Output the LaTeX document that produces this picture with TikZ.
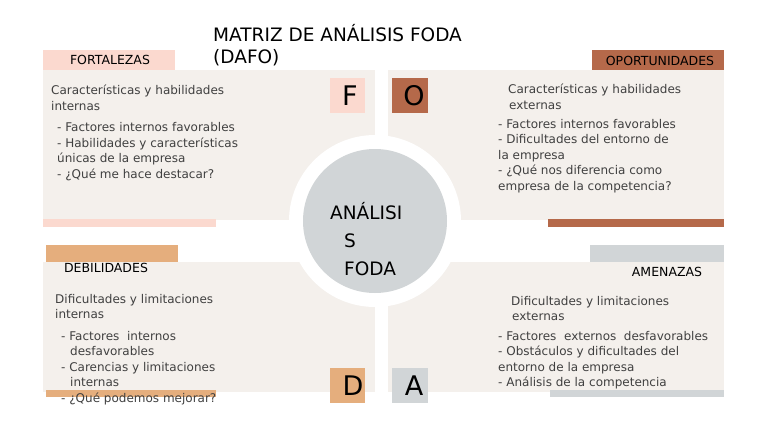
\documentclass[tikz,border=0pt]{standalone}
\usepackage{fontspec}
\setmainfont{DejaVu Sans}
\definecolor{bg}{HTML}{F4F0EC}
\definecolor{pk}{HTML}{FBD9CF}
\definecolor{br}{HTML}{B5694A}
\definecolor{og}{HTML}{E5AE7D}
\definecolor{gy}{HTML}{D1D5D7}
\definecolor{tx}{HTML}{404040}
\begin{document}
\begin{tikzpicture}[x=1pt,y=-1pt,
 body/.style={anchor=north west,align=left,font=\fontsize{12}{15.5}\selectfont,text=tx,inner sep=0},
 head/.style={font=\fontsize{12.5}{14}\selectfont,inner sep=0},
 letter/.style={font=\fontsize{27}{29}\selectfont,inner sep=0}]
\useasboundingbox (0,0) rectangle (768,433);
\fill[white] (0,0) rectangle (768,433);
% quadrants
\fill[bg] (43,70) rectangle (375,220);
\fill[bg] (388,70) rectangle (724,220);
\fill[bg] (43,262) rectangle (375,392);
\fill[bg] (388,262) rectangle (724,392);
% header bars
\fill[pk] (43,50) rectangle (175,70);
\fill[br] (592,50) rectangle (724,70);
\fill[og] (46,245) rectangle (178,262);
\fill[gy] (590,245) rectangle (724,262);
\node[head] (hf) at (110,60) {FORTALEZAS};
\node[head] (ho) at (660,61) {OPORTUNIDADES};
\node[head] (hd) at (106,268) {DEBILIDADES};
\node[head] (ha) at (667,272) {AMENAZAS};
% bottom bars
\fill[pk] (43,219) rectangle (216,227);
\fill[br] (548,219) rectangle (724,227);
\fill[og] (46,390) rectangle (216,397);
\fill[gy] (550,390) rectangle (724,397);
% letters
\fill[pk] (330,78) rectangle (365,113);
\fill[br] (392,78) rectangle (428,113);
\fill[og] (330,368) rectangle (365,403);
\fill[gy] (392,368) rectangle (428,403);
\node[letter] (lf) at (350,96) {F};
\node[letter] (lo) at (414,96) {O};
\node[letter] (ld) at (353,386) {D};
\node[letter] (la) at (414,386) {A};
% title
\node[anchor=north west,align=left,font=\fontsize{18.5}{22}\selectfont,inner sep=0] (title) at (213,24) {MATRIZ DE ANÁLISIS FODA\\(DAFO)};
% circle
\fill[white] (375,221) circle (86);
\fill[gy] (375,221) circle (72);
\node[anchor=north west,align=left,font=\fontsize{18.5}{28}\selectfont,inner sep=0] (c) at (330,202) {ANÁLISI\\\hspace*{14pt}S\\\hspace*{14pt}FODA};
% texts
\node[body] (tf) at (51,85) {Características y habilidades\\internas\\[6pt]
\hspace*{6pt}- Factores internos favorables\\
\hspace*{6pt}- Habilidades y características\\
\hspace*{6pt}únicas de la empresa\\
\hspace*{6pt}- ¿Qué me hace destacar?};
\node[body] (to) at (508,84) {Características y habilidades\\\hspace*{1pt}externas};
\node[body] (to2) at (498,119) {- Factores internos favorables\\
- Dificultades del entorno de\\la empresa\\- ¿Qué nos diferencia como\\empresa de la competencia?};
\node[body] (td) at (55,294) {Dificultades y limitaciones\\internas\\[6pt]
\hspace*{6pt}- Factores\ \ internos\\
\hspace*{15pt}desfavorables\\
\hspace*{6pt}- Carencias\ y\ limitaciones\\
\hspace*{15pt}internas\\
\hspace*{6pt}- ¿Qué podemos mejorar?};
\node[body] (ta) at (511,296) {Dificultades y limitaciones\\\hspace*{1pt}externas};
\node[body] (ta2) at (498,331) {- Factores\ \ externos\ \ desfavorables\\
- Obstáculos y dificultades del\\entorno de la empresa\\- Análisis de la competencia};
\end{tikzpicture}
\end{document}
